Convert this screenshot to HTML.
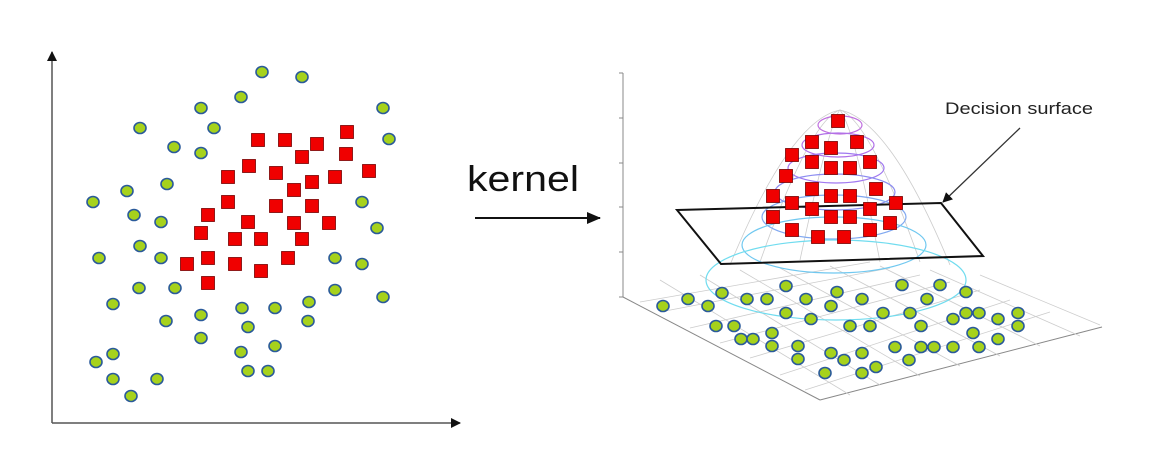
<!DOCTYPE html>
<html><head><meta charset="utf-8"><style>
body{margin:0;background:#fff;width:1162px;height:459px;overflow:hidden}
svg{display:block}
</style></head><body>
<svg width="1162" height="459" viewBox="0 0 1162 459" xmlns="http://www.w3.org/2000/svg">
<defs>
<marker id="ah" markerWidth="10" markerHeight="10" refX="9" refY="5" orient="auto" markerUnits="userSpaceOnUse"><path d="M0,0 L10,5 L0,10 z" fill="#111"/></marker>
<marker id="ah2" markerWidth="14" markerHeight="12" refX="13" refY="6" orient="auto" markerUnits="userSpaceOnUse"><path d="M0,0 L14,6 L0,12 z" fill="#111"/></marker>
<g id="c"><ellipse rx="6" ry="5.5" fill="#a6d21c" stroke="#2a5a9a" stroke-width="1.6"/></g>
<g id="s"><rect x="-6.5" y="-6.5" width="13" height="13" fill="#f00000" stroke="#700" stroke-width="0.8"/></g>
</defs>
<line x1="52" y1="423" x2="52" y2="52" stroke="#555" stroke-width="1.5" marker-end="url(#ah)"/>
<line x1="52" y1="423" x2="460" y2="423" stroke="#555" stroke-width="1.5" marker-end="url(#ah)"/>
<g>
<use href="#c" x="262" y="72"/><use href="#c" x="302" y="77"/><use href="#c" x="241" y="97"/><use href="#c" x="201" y="108"/><use href="#c" x="383" y="108"/><use href="#c" x="140" y="128"/><use href="#c" x="214" y="128"/><use href="#c" x="389" y="139"/><use href="#c" x="174" y="147"/><use href="#c" x="201" y="153"/><use href="#c" x="167" y="184"/><use href="#c" x="127" y="191"/><use href="#c" x="93" y="202"/><use href="#c" x="362" y="202"/><use href="#c" x="134" y="215"/><use href="#c" x="161" y="222"/><use href="#c" x="377" y="228"/><use href="#c" x="140" y="246"/><use href="#c" x="99" y="258"/><use href="#c" x="161" y="258"/><use href="#c" x="335" y="258"/><use href="#c" x="362" y="264"/><use href="#c" x="139" y="288"/><use href="#c" x="175" y="288"/><use href="#c" x="335" y="290"/><use href="#c" x="383" y="297"/><use href="#c" x="113" y="304"/><use href="#c" x="242" y="308"/><use href="#c" x="275" y="308"/><use href="#c" x="309" y="302"/><use href="#c" x="166" y="321"/><use href="#c" x="201" y="315"/><use href="#c" x="248" y="327"/><use href="#c" x="308" y="321"/><use href="#c" x="201" y="338"/><use href="#c" x="275" y="346"/><use href="#c" x="241" y="352"/><use href="#c" x="113" y="354"/><use href="#c" x="96" y="362"/><use href="#c" x="113" y="379"/><use href="#c" x="157" y="379"/><use href="#c" x="248" y="371"/><use href="#c" x="268" y="371"/><use href="#c" x="131" y="396"/>
</g>
<g>
<use href="#s" x="258" y="140"/><use href="#s" x="285" y="140"/><use href="#s" x="317" y="144"/><use href="#s" x="347" y="132"/><use href="#s" x="302" y="157"/><use href="#s" x="346" y="154"/><use href="#s" x="249" y="166"/><use href="#s" x="228" y="177"/><use href="#s" x="276" y="173"/><use href="#s" x="312" y="182"/><use href="#s" x="335" y="177"/><use href="#s" x="369" y="171"/><use href="#s" x="294" y="190"/><use href="#s" x="228" y="202"/><use href="#s" x="276" y="206"/><use href="#s" x="312" y="206"/><use href="#s" x="208" y="215"/><use href="#s" x="248" y="222"/><use href="#s" x="294" y="223"/><use href="#s" x="329" y="223"/><use href="#s" x="201" y="233"/><use href="#s" x="235" y="239"/><use href="#s" x="261" y="239"/><use href="#s" x="302" y="239"/><use href="#s" x="208" y="258"/><use href="#s" x="235" y="264"/><use href="#s" x="288" y="258"/><use href="#s" x="187" y="264"/><use href="#s" x="261" y="271"/><use href="#s" x="208" y="283"/>
</g>
<text x="467" y="191" font-family="Liberation Sans, sans-serif" font-size="36" fill="#111" textLength="112" lengthAdjust="spacingAndGlyphs">kernel</text>
<line x1="475" y1="218" x2="600" y2="218" stroke="#111" stroke-width="2" marker-end="url(#ah2)"/>
<g stroke="#888" stroke-width="1" fill="none">
<line x1="623" y1="73" x2="623" y2="297"/>
<path d="M619,73h4M619,118h4M619,163h4M619,207h4M619,252h4M619,297h4"/>
<line x1="623" y1="297" x2="820" y2="400"/>
<line x1="820" y1="400" x2="1102" y2="327"/>
</g>
<g stroke="#ccc" stroke-width="0.8" fill="none">
<path d="M640,302 L870,262 M660,312 L890,268 M690,328 L920,275 M720,343 L950,282 M750,358 L980,290 M780,375 L1010,300 M805,390 L1050,312"/>
<path d="M660,280 L850,395 M700,275 L880,385 M740,270 L920,376 M780,268 L960,366 M830,266 L1000,356 M880,266 L1040,346 M930,270 L1080,336 M980,275 L1100,325"/>
<path d="M730,265 Q790,120 840,110 Q890,120 950,265" />
<path d="M760,262 Q810,120 840,110 Q870,120 920,262"/>
<path d="M800,260 Q830,120 840,110 Q855,130 880,262"/>
</g>
<g fill="none" stroke-width="1.2">
<ellipse cx="840" cy="125" rx="22" ry="9" stroke="#c070e0"/>
<ellipse cx="838" cy="145" rx="36" ry="12" stroke="#b070e8"/>
<ellipse cx="836" cy="168" rx="48" ry="15" stroke="#a078f0"/>
<ellipse cx="835" cy="192" rx="60" ry="18" stroke="#8c8cf0"/>
<ellipse cx="834" cy="217" rx="72" ry="22" stroke="#80a8f0"/>
<ellipse cx="834" cy="245" rx="92" ry="28" stroke="#70c8f0"/>
<ellipse cx="836" cy="280" rx="130" ry="40" stroke="#70dcef"/>
</g>
<polygon points="677,210 941,203 983,256 721,264" fill="none" stroke="#111" stroke-width="2"/>
<g>
<use href="#s" x="838" y="121"/><use href="#s" x="812" y="142"/><use href="#s" x="857" y="142"/><use href="#s" x="831" y="148"/><use href="#s" x="792" y="155"/><use href="#s" x="812" y="162"/><use href="#s" x="831" y="168"/><use href="#s" x="850" y="168"/><use href="#s" x="870" y="162"/><use href="#s" x="786" y="176"/><use href="#s" x="812" y="189"/><use href="#s" x="876" y="189"/><use href="#s" x="773" y="196"/><use href="#s" x="831" y="196"/><use href="#s" x="850" y="196"/><use href="#s" x="792" y="203"/><use href="#s" x="896" y="203"/><use href="#s" x="812" y="209"/><use href="#s" x="870" y="209"/><use href="#s" x="773" y="217"/><use href="#s" x="831" y="217"/><use href="#s" x="850" y="217"/><use href="#s" x="890" y="223"/><use href="#s" x="792" y="230"/><use href="#s" x="870" y="230"/><use href="#s" x="818" y="237"/><use href="#s" x="844" y="237"/>
</g>
<g>
<use href="#c" x="663" y="306"/><use href="#c" x="688" y="299"/><use href="#c" x="708" y="306"/><use href="#c" x="722" y="293"/><use href="#c" x="747" y="299"/><use href="#c" x="767" y="299"/><use href="#c" x="786" y="286"/><use href="#c" x="806" y="299"/><use href="#c" x="831" y="306"/><use href="#c" x="837" y="292"/><use href="#c" x="862" y="299"/><use href="#c" x="902" y="285"/><use href="#c" x="940" y="285"/><use href="#c" x="927" y="299"/><use href="#c" x="966" y="292"/><use href="#c" x="716" y="326"/><use href="#c" x="734" y="326"/><use href="#c" x="741" y="339"/><use href="#c" x="753" y="339"/><use href="#c" x="772" y="333"/><use href="#c" x="772" y="346"/><use href="#c" x="786" y="313"/><use href="#c" x="811" y="319"/><use href="#c" x="798" y="346"/><use href="#c" x="798" y="359"/><use href="#c" x="831" y="353"/><use href="#c" x="844" y="360"/><use href="#c" x="825" y="373"/><use href="#c" x="862" y="353"/><use href="#c" x="862" y="373"/><use href="#c" x="876" y="367"/><use href="#c" x="850" y="326"/><use href="#c" x="870" y="326"/><use href="#c" x="883" y="313"/><use href="#c" x="910" y="313"/><use href="#c" x="921" y="326"/><use href="#c" x="895" y="347"/><use href="#c" x="909" y="360"/><use href="#c" x="921" y="347"/><use href="#c" x="934" y="347"/><use href="#c" x="953" y="347"/><use href="#c" x="953" y="319"/><use href="#c" x="966" y="313"/><use href="#c" x="979" y="313"/><use href="#c" x="973" y="333"/><use href="#c" x="979" y="347"/><use href="#c" x="998" y="319"/><use href="#c" x="998" y="339"/><use href="#c" x="1018" y="313"/><use href="#c" x="1018" y="326"/>
</g>
<text x="945" y="114" font-family="Liberation Sans, sans-serif" font-size="17" fill="#222" textLength="148" lengthAdjust="spacingAndGlyphs">Decision surface</text>
<line x1="1020" y1="128" x2="943" y2="202" stroke="#333" stroke-width="1.3" marker-end="url(#ah)"/>
</svg>
</body></html>
